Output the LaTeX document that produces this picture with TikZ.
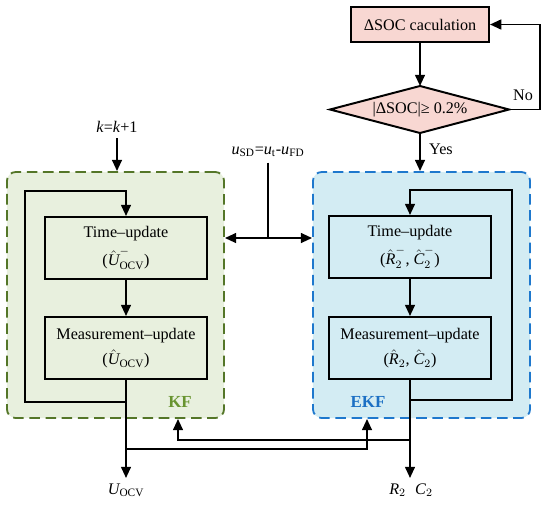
\documentclass[tikz,border=0pt]{standalone}
\usepackage{amsmath}
\usepackage{fontspec}
\setmainfont{Liberation Serif}
\usetikzlibrary{calc}
\usetikzlibrary{arrows.meta}
\usepackage{xcolor}

\definecolor{kfbg}{RGB}{232,240,222}
\definecolor{kfline}{RGB}{84,118,40}
\definecolor{kftext}{RGB}{104,148,48}
\definecolor{ekfbg}{RGB}{211,236,243}
\definecolor{ekfline}{RGB}{30,120,205}
\definecolor{ekftext}{RGB}{28,112,196}
\definecolor{socbg}{RGB}{248,215,210}

\newcommand{\tvar}[1]{\text{\itshape #1}}
\newcommand{\tsub}[1]{\text{\upshape #1}}

\tikzset{
  arr/.style={-{Triangle[length=8pt,width=7pt]}},
  upbox/.style={draw, line width=1.4pt, align=center, minimum width=4.05cm, minimum height=1.55cm, inner sep=1pt},
  frame/.style={line width=1.3pt, dash pattern=on 7.5pt off 4pt, rounded corners=0.22cm, minimum width=5.425cm, minimum height=6.15cm},
}

\begin{document}
\begin{tikzpicture}[x=0.025cm, y=-0.025cm, line width=1.4pt, font=\fontsize{11.5pt}{14pt}\selectfont]
\useasboundingbox (0,0) rectangle (550,508);

% filter frames
\node[frame, draw=kfline, fill=kfbg] (kf) at (115.5,295) {};
\node[frame, draw=ekfline, fill=ekfbg] (ekf) at (421.5,295) {};
\node[text=kftext, font=\fontsize{12pt}{14pt}\selectfont\bfseries] (kflab) at (180,402) {KF};
\node[text=ekftext, font=\fontsize{12pt}{14pt}\selectfont\bfseries] (ekflab) at (368,402) {EKF};

% KF boxes
\node[upbox, fill=kfbg] (kftu) at (126,248) {Time--update\\[4pt]($\hat{\tvar{U}}^{-}_{\tsub{OCV}}$)};
\node[upbox, fill=kfbg] (kfmu) at (126,348) {Measurement--update\\[4pt]($\hat{\tvar{U}}_{\tsub{OCV}}$)};
\draw[arr] (kftu) -- (kfmu);

% EKF boxes
\node[upbox, fill=ekfbg] (ekftu) at (410,247) {Time--update\\[4pt]($\hat{\tvar{R}}^{-}_{2}$, $\hat{\tvar{C}}^{-}_{2}$)};
\node[upbox, fill=ekfbg] (ekfmu) at (410,348) {Measurement--update\\[4pt]($\hat{\tvar{R}}_{2}$, $\hat{\tvar{C}}_{2}$)};
\draw[arr] (ekftu) -- (ekfmu);

% outputs
\node[anchor=north] (uocv) at (126,478) {$\tvar{U}_{\tsub{OCV}}$};
\node[anchor=north] (rc) at (411,478) {$\tvar{R}_2\;\;\tvar{C}_2$};
\draw[arr] (kfmu.south) -- (kfmu.south |- uocv.north);
\draw[arr] (ekfmu.south) -- (ekfmu.south |- rc.north);

% inner loops
\coordinate (kfbot) at (126,402);
\draw[arr] (kfbot) -- ++(-101,0) |- ($(kftu.north)+(0,-25)$) -- (kftu.north);
\coordinate (ekfbot) at (410,400);
\draw[arr] (ekfbot) -- ++(102,0) |- ($(ekftu.north)+(0,-25)$) -- (ekftu.north);

% cross feedback
\draw[arr] (kfmu.south)++(0,69) -| ($(ekf.south)+(-54.5,0)$);
\draw[arr] (ekfmu.south)++(0,60) -| ($(kf.south)+(62.5,0)$);

% inputs
\node (kinc) at (117,127) {\textit{k}=\textit{k}+1};
\draw[arr] (kinc.south) -- (kinc.south |- kf.north);
\node (usd) at (268,152) {$\tvar{u}_{\tsub{SD}}$=$\tvar{u}_{\tsub{t}}$-$\tvar{u}_{\tsub{FD}}$};
\coordinate (uj) at (268,238);
\draw (usd.south) -- (uj);
\draw[{Triangle[length=8pt,width=7pt]}-{Triangle[length=8pt,width=7pt]}] (kf.east |- uj) -- (ekf.west |- uj);

% SOC check
\node[draw, fill=socbg, minimum width=3.45cm, minimum height=0.875cm] (soc) at (420,24.5) {ΔSOC caculation};
\coordinate (dtop) at (420,86);
\coordinate (dright) at (509,109.5);
\coordinate (dbot) at (420,133);
\coordinate (dleft) at (330,109.5);
\draw[fill=socbg, line join=miter] (dleft) -- (dtop) -- (dright) -- (dbot) -- cycle;
\node (cond) at (420,109.5) {|ΔSOC|≥ 0.2\%};
\draw[arr] (soc.south) -- (dtop);
\draw[arr] (dright) -- ++(31,0) |- (soc.east);
\node (no) at (523,95) {No};
\draw[arr] (dbot) -- (dbot |- ekf.north);
\node (yes) at (441,149) {Yes};
\end{tikzpicture}
\end{document}
